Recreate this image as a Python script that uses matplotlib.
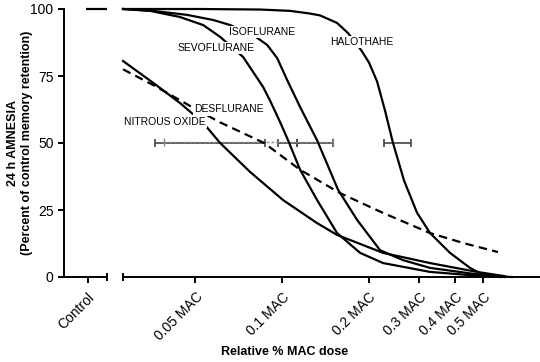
import matplotlib
matplotlib.use('Agg')
import matplotlib.pyplot as plt
import matplotlib.transforms as mtransforms
from matplotlib.ticker import FixedLocator, NullFormatter

plt.rcParams['font.family'] = ['Liberation Sans', 'DejaVu Sans']

# dose in MAC units, response = % of control memory retention
halothane_x = [0.0280, 0.0519, 0.0839, 0.1066, 0.1251, 0.1355, 0.1552, 0.1695, 0.1881, 0.2004,
               0.2137, 0.2279, 0.2428, 0.2652, 0.2942, 0.3265, 0.3831, 0.4496, 0.4988, 0.5714]
halothane_y = [100, 100, 99.8, 99.3, 98.3, 97.6, 94.8, 91, 84.7, 80,
               73, 62, 50, 36, 24, 16.4, 9, 3.4, 0.8, 0]

iso_x = [0.0280, 0.0357, 0.0468, 0.0576, 0.0660, 0.0793, 0.0887, 0.0961, 0.1041, 0.1155,
         0.1323, 0.1565, 0.1822, 0.2189, 0.2630, 0.3265, 0.4754, 0.5943]
iso_y = [100, 99.3, 97.8, 95.9, 94, 90.3, 86.6, 81.7, 73.5, 63.4,
         51, 32.5, 21.3, 10, 6.3, 3.4, 1, 0]

sevo_x = [0.0280, 0.0348, 0.0442, 0.0532, 0.0609, 0.0732, 0.0859, 0.0909, 0.0984, 0.1049,
          0.1155, 0.1323, 0.1552, 0.1866, 0.2243, 0.3265, 0.4496, 0.6285]
sevo_y = [100, 99.3, 97, 94, 89.6, 82.1, 70.9, 65.7, 57.8, 51,
          40, 28.7, 16.4, 9, 5.2, 1.9, 0.7, 0]

nitrous_x = [0.0280, 0.0357, 0.0442, 0.0532, 0.0609, 0.0774, 0.1008, 0.1323, 0.1552, 0.2243,
             0.3265, 0.4754, 0.5943]
nitrous_y = [80.6, 72.4, 64.9, 57.5, 50, 39.2, 28.7, 20.1, 15.7, 9, 5.2, 1.9, 0.3]

des_x = [0.0280, 0.0357, 0.0507, 0.0609, 0.0866, 0.1155, 0.1590, 0.2243, 0.3265, 0.4319, 0.5623]
des_y = [77.5, 71.6, 62.3, 57.7, 50, 40, 31.3, 23.9, 16.4, 12.5, 9.3]

control_value = 100

# ED50 confidence intervals (low, high) in MAC
ci_solid = [(0.0362, 0.0873), (0.0968, 0.1127), (0.1127, 0.1503), (0.226, 0.2806)]
ci_dashed = [(0.0389, 0.1503)]

tick_vals = [0.05, 0.1, 0.2, 0.3, 0.4, 0.5]
tick_labels = ['0.05 MAC', '0.1 MAC', '0.2 MAC', '0.3 MAC', '0.4 MAC', '0.5 MAC']
y_ticks = [0, 25, 50, 75, 100]

# curve labels: text, x (MAC), y (%)
curve_labels = [('ISOFLURANE', 0.0852, 91.4), ('SEVOFLURANE', 0.0590, 85.4),
                ('HALOTHAHE', 0.1890, 87.7), ('DESFLURANE', 0.0655, 62.5),
                ('NITROUS OXIDE', 0.0392, 58.0)]

fig = plt.figure(figsize=(5.4, 3.62), dpi=100)
bottom = 85 / 362
height = 268 / 362
ax_c = fig.add_axes([64 / 540, bottom, 43 / 540, height])
ax = fig.add_axes([123 / 540, bottom, 417 / 540, height])

spine_w = 1.4
tick_kw = dict(width=spine_w, length=4, direction='out', labelsize=10, color='black')

# control segment
ax_c.plot([0.5, 1.0], [control_value, control_value], color='black', lw=1.6, clip_on=False,
          solid_capstyle='butt')
ax_c.set_xlim(0, 1)
ax_c.set_ylim(0, 100)
ax_c.set_xticks([0.55])
ax_c.set_xticklabels(['Control'])
ax_c.xaxis.set_minor_locator(FixedLocator([1.0]))
ax_c.tick_params(axis='x', which='minor', direction='inout', length=6, width=spine_w)
ax_c.set_yticks(y_ticks)
ax_c.tick_params(axis='both', which='major', **tick_kw)
for s in ['top', 'right']:
    ax_c.spines[s].set_visible(False)
for s in ['left', 'bottom']:
    ax_c.spines[s].set_linewidth(spine_w)

# main log-dose segment
x_min, x_max = 0.0280, 0.787
for xs, ys in [(halothane_x, halothane_y), (iso_x, iso_y), (sevo_x, sevo_y), (nitrous_x, nitrous_y)]:
    ax.plot(xs, ys, color='black', lw=1.6, clip_on=False, solid_joinstyle='round', zorder=3)
ax.plot(des_x, des_y, color='black', lw=1.6, dashes=(3.8, 2.4), clip_on=False, zorder=3)

for lo, hi in ci_solid:
    c = (lo * hi) ** 0.5
    ax.errorbar([c], [50], xerr=[[c - lo], [hi - c]], fmt='none', ecolor='#444444',
                elinewidth=1.2, capsize=3, capthick=1.2, zorder=2)
for lo, hi in ci_dashed:
    c = (lo * hi) ** 0.5
    eb = ax.errorbar([c], [50.4], xerr=[[c - lo], [hi - c]], fmt='none', ecolor='#888888',
                     elinewidth=1.0, capsize=3, capthick=1.0, zorder=2)
    eb[2][0].set_linestyle((0, (2, 1.5)))

for txt, tx, ty in curve_labels:
    ax.text(tx, ty, txt, fontsize=7.5, ha='center', va='center', zorder=4,
            bbox=dict(facecolor='white', edgecolor='none', pad=1.0))

ax.set_xscale('log')
ax.set_xlim(x_min, x_max)
ax.set_ylim(0, 100)
ax.xaxis.set_major_locator(FixedLocator(tick_vals))
ax.set_xticklabels(tick_labels)
ax.xaxis.set_minor_locator(FixedLocator([x_min]))
ax.xaxis.set_minor_formatter(NullFormatter())
ax.tick_params(axis='x', which='minor', direction='inout', length=6, width=spine_w)
ax.tick_params(axis='x', which='major', **tick_kw)
ax.set_yticks([])
for s in ['top', 'right', 'left']:
    ax.spines[s].set_visible(False)
ax.spines['bottom'].set_linewidth(spine_w)

offset = mtransforms.ScaledTranslation(0.05, 0, fig.dpi_scale_trans)
for a in (ax, ax_c):
    a.tick_params(axis='x', which='major', pad=9)
    for lab in a.get_xticklabels():
        lab.set_rotation(45)
        lab.set_ha('right')
        lab.set_va('center')
        lab.set_rotation_mode('anchor')
        lab.set_transform(lab.get_transform() + offset)

fig.text(20 / 540, (362 - 143) / 362, '24 h AMNESIA\n(Percent of control memory retention)',
         rotation=90, ha='center', va='center', fontsize=9, fontweight='bold', linespacing=1.25)
fig.text(285 / 540, 10 / 362, 'Relative % MAC dose', ha='center', va='center',
         fontsize=9, fontweight='bold')

fig.savefig('out.png', dpi=100)
